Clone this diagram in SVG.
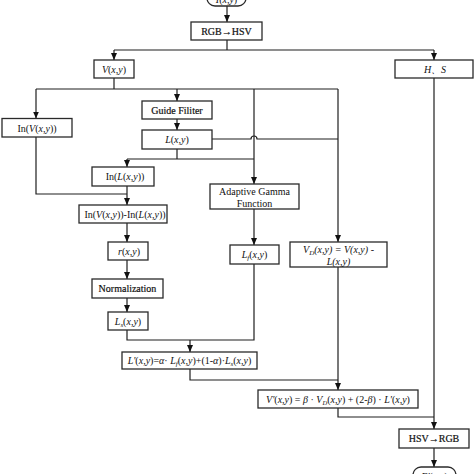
<svg xmlns="http://www.w3.org/2000/svg" width="474" height="474" viewBox="0 0 474 474">
<style>
.box{fill:#fff;stroke:#2a2a2a;stroke-width:1.3}
.ln{fill:none;stroke:#1e1e1e;stroke-width:1.2}
.t{font-family:"Liberation Serif","Times New Roman",serif;font-size:10px;fill:#111;text-anchor:middle}
.b{stroke:#111;stroke-width:0.2}
.i{font-style:italic}
</style>
<defs>
<marker id="ah" markerUnits="userSpaceOnUse" markerWidth="7" markerHeight="6" refX="7" refY="3" orient="auto">
<path d="M0,0 L7,3 L0,6 z" fill="#111"/>
</marker>
</defs>
<rect width="474" height="474" fill="#fff"/>
<g id="connectors">
<path class="ln" d="M227,6 V22" marker-end="url(#ah)"/>
<path class="ln" d="M227,40 V50"/>
<path class="ln" d="M114,50 H434"/>
<path class="ln" d="M114,50 V60" marker-end="url(#ah)"/>
<path class="ln" d="M434,50 V60" marker-end="url(#ah)"/>
<path class="ln" d="M114,78 V89"/>
<path class="ln" d="M36,89 H338"/>
<path class="ln" d="M36,89 V118.5" marker-end="url(#ah)"/>
<path class="ln" d="M177,89 V101" marker-end="url(#ah)"/>
<path class="ln" d="M254,89 V184" marker-end="url(#ah)"/>
<path class="ln" d="M338,89 V242" marker-end="url(#ah)"/>
<path class="ln" d="M177,119 V130" marker-end="url(#ah)"/>
<path class="ln" d="M212,139 H251 A3,3 0 0 1 257,139 H338"/>
<path class="ln" d="M177,149 V159"/>
<path class="ln" d="M127,159 H254"/>
<path class="ln" d="M127,159 V167" marker-end="url(#ah)"/>
<path class="ln" d="M36,137 V194 H127"/>
<path class="ln" d="M127,186 V205" marker-end="url(#ah)"/>
<path class="ln" d="M127,223 V242" marker-end="url(#ah)"/>
<path class="ln" d="M127,260 V279" marker-end="url(#ah)"/>
<path class="ln" d="M127,298 V312" marker-end="url(#ah)"/>
<path class="ln" d="M254,209 V245" marker-end="url(#ah)"/>
<path class="ln" d="M127,330 V340 H254 V264"/>
<path class="ln" d="M190,340 V352" marker-end="url(#ah)"/>
<path class="ln" d="M190,369 V380 H338"/>
<path class="ln" d="M338,267 V390" marker-end="url(#ah)"/>
<path class="ln" d="M338,408 V417 H434"/>
<path class="ln" d="M434,78 V429" marker-end="url(#ah)"/>
<path class="ln" d="M434,448 V467" marker-end="url(#ah)"/>
</g>
<g id="start"><rect class="box" x="207" y="-12" width="39" height="18" rx="8"/><text class="t" x="226.5" y="3"><tspan class="i">I</tspan>(<tspan class="i">x,y</tspan>)</text></g>
<g id="rgb2hsv"><rect class="box" x="191" y="22" width="71" height="18"/><text class="t b" x="226.5" y="34.5">RGB→HSV</text></g>
<g id="v"><rect class="box" x="94" y="60" width="40" height="18"/><text class="t" x="114" y="73"><tspan class="i">V</tspan>(<tspan class="i">x,y</tspan>)</text></g>
<g id="hs"><rect class="box" x="395" y="60" width="78" height="18"/><text class="t i" x="435" y="73">H、S</text></g>
<g id="lnv"><rect class="box" x="2" y="118.5" width="70" height="18.5"/><text class="t" x="37" y="131.5">In(<tspan class="i">V</tspan>(<tspan class="i">x,y</tspan>))</text></g>
<g id="guide"><rect class="box" x="142" y="101" width="70" height="18"/><text class="t b" x="177" y="113.5">Guide Filiter</text></g>
<g id="l"><rect class="box" x="142" y="130" width="70" height="19"/><text class="t" x="177" y="143"><tspan class="i">L</tspan>(<tspan class="i">x,y</tspan>)</text></g>
<g id="lnl"><rect class="box" x="92" y="167" width="62" height="19"/><text class="t" x="125" y="180">In(<tspan class="i">L</tspan>(<tspan class="i">x,y</tspan>))</text></g>
<g id="diff"><rect class="box" x="79" y="205" width="88" height="18"/><text class="t" x="125" y="217.5">In(<tspan class="i">V</tspan>(<tspan class="i">x,y</tspan>))-In(<tspan class="i">L</tspan>(<tspan class="i">x,y</tspan>))</text></g>
<g id="r"><rect class="box" x="108" y="242" width="40" height="18"/><text class="t" x="129" y="254.5"><tspan class="i">r</tspan>(<tspan class="i">x,y</tspan>)</text></g>
<g id="norm"><rect class="box" x="92" y="279" width="71" height="19"/><text class="t b" x="127.5" y="292" font-size="9.5">Normalization</text></g>
<g id="ls"><rect class="box" x="108" y="312" width="40" height="18"/><text class="t" x="128" y="324.5"><tspan class="i">L<tspan font-size="7" dy="2">s</tspan></tspan><tspan dy="-2">(</tspan><tspan class="i">x,y</tspan>)</text></g>
<g id="agf"><rect class="box" x="210" y="184" width="89" height="25"/><text class="t" x="254.5" y="194.5">Adaptive Gamma</text><text class="t" x="254.5" y="206.5">Function</text></g>
<g id="lf"><rect class="box" x="230" y="245" width="49" height="19"/><text class="t" x="254.5" y="258"><tspan class="i">L<tspan font-size="7" dy="2">f</tspan></tspan><tspan dy="-2">(</tspan><tspan class="i">x,y</tspan>)</text></g>
<g id="vd"><rect class="box" x="290" y="242" width="97" height="25"/><text class="t i" x="338.5" y="252.5" font-size="9.5">V<tspan font-size="7" dy="2">D</tspan><tspan dy="-2">(x,y) = V(x,y) -</tspan></text><text class="t i" x="338.5" y="265" font-size="9.5">L(x,y)</text></g>
<g id="lprime"><rect class="box" x="122" y="352" width="135" height="17"/><text class="t" x="189.5" y="364" font-size="9.5"><tspan class="i">L'</tspan>(<tspan class="i">x,y</tspan>)=<tspan class="i">α</tspan>· <tspan class="i">L<tspan font-size="7" dy="2">f</tspan></tspan><tspan dy="-2">(</tspan><tspan class="i">x,y</tspan>)+(1-<tspan class="i">α</tspan>)·<tspan class="i">L<tspan font-size="7" dy="2">s</tspan></tspan><tspan dy="-2">(</tspan><tspan class="i">x,y</tspan>)</text></g>
<g id="vprime"><rect class="box" x="258" y="390" width="160" height="18"/><text class="t" x="338" y="402.5" font-size="9"><tspan class="i">V'</tspan>(<tspan class="i">x,y</tspan>) = <tspan class="i">β</tspan> · <tspan class="i">V<tspan font-size="6.5" dy="2">D</tspan></tspan><tspan dy="-2">(</tspan><tspan class="i">x,y</tspan>) + (2-<tspan class="i">β</tspan>) · <tspan class="i">L'</tspan>(<tspan class="i">x,y</tspan>)</text></g>
<g id="hsv2rgb"><rect class="box" x="399" y="429" width="70" height="19"/><text class="t b" x="434" y="442">HSV→RGB</text></g>
<g id="end"><rect class="box" x="413" y="467" width="43" height="20" rx="8"/><text class="t" x="434.5" y="479.5"><tspan class="i">E'</tspan>(<tspan class="i">x,y</tspan>)</text></g>
</svg>
